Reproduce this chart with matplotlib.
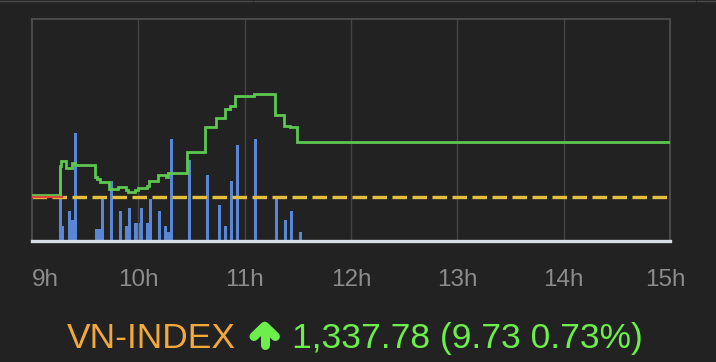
import matplotlib
matplotlib.use("Agg")
import matplotlib.pyplot as plt
from matplotlib.lines import Line2D
from matplotlib.transforms import ScaledTranslation

# ---------------- data ----------------
ref_value = 1328.05
last_value = 1337.78
change = 9.73
change_pct = 0.73

# index line (minutes since 9:00, value) - step shaped
line_minutes = [0, 15.8, 16.2, 19.0, 22.4, 24.3, 35.5, 36.8, 38.4, 43.6, 48.5, 53.0,
                54.3, 58.1, 60.0, 64.7, 66.2, 71.3, 75.4, 76.9, 87.3, 97.6, 103.8,
                108.9, 111.7, 114.6, 125.3, 137.1, 142.4, 145.6, 149.4, 151.2, 360]
line_values = [1328.3, 1333.54, 1334.49, 1333.13, 1334.13, 1333.72, 1331.63, 1331.16,
               1330.73, 1329.37, 1329.84, 1329.25, 1328.89, 1329.25, 1329.55, 1329.96,
               1330.91, 1331.93, 1331.63, 1332.24, 1336.00, 1340.46, 1342.07, 1343.68,
               1344.27, 1346.06, 1346.37, 1342.66, 1340.70, 1340.46, 1337.89, 1337.78,
               1337.78]

# below-reference segment (red)
red_minutes = [0, 16.8]

# volume bars (minutes since 9:00, volume)
vol_minutes = [15.9, 17.5, 21.0, 22.7, 24.4, 36.4, 38.1, 39.8, 44.9, 49.9, 53.3, 55.0,
               58.4, 60.1, 61.8, 65.2, 66.9, 71.9, 75.3, 77.0, 78.7, 88.9, 99.0, 105.8,
               109.2, 112.6, 116.0, 126.1, 138.0, 143.0, 146.4, 151.5]
vol_values = [7.4, 1.53, 3.0, 2.1, 10.83, 1.2, 1.2, 4.53, 6.0, 3.0, 1.5, 3.3,
              1.8, 1.8, 3.3, 1.8, 4.2, 3.0, 1.5, 0.9, 10.2, 8.1, 6.6, 3.6,
              1.5, 6.0, 9.6, 10.2, 4.2, 2.1, 3.0, 0.9]

tick_minutes = [0, 60, 120, 180, 240, 300, 360]
tick_labels = ["9h", "10h", "11h", "12h", "13h", "14h", "15h"]

# ---------------- style ----------------
BG = "#222222"
GREEN = "#5cc850"
RED = "#e0453a"
YELLOW = "#e6bf3a"
BLUE = "#5a86d6"
FRAME = "#4a4a4a"
GRID = "#454545"
TICK = "#8c8c8c"
ORANGE = "#f3a83a"
TXT_GREEN = "#6cef4a"

W, H = 716, 362
fig = plt.figure(figsize=(W / 100, H / 100), dpi=100, facecolor=BG)

def fx(px):
    return px / W

def fy(py):
    return 1 - py / H

ax_l, ax_r, ax_t, ax_b = 32, 670, 19.3, 241
ax = fig.add_axes([fx(ax_l), fy(ax_b), (ax_r - ax_l) / W, (ax_b - ax_t) / H])
ax.set_facecolor(BG)

# volume axis (behind)
axv = ax.twinx()
axv.set_zorder(ax.get_zorder() - 1)
ax.patch.set_visible(False)
axv.set_facecolor(BG)
axv.bar(vol_minutes, vol_values, width=1.6, color=BLUE, linewidth=0, align="center")
axv.set_ylim(0, 22.17)
axv.set_yticks([])
for s in axv.spines.values():
    s.set_visible(False)

# grid lines
for m in tick_minutes[1:-1]:
    ax.axvline(m, color=GRID, lw=1.0, zorder=1)

# reference dashed line
ax.axhline(ref_value, color=YELLOW, lw=2.4, dashes=(4.35, 1.65), zorder=2)
# index line
ax.plot(line_minutes, line_values, drawstyle="steps-post", color=GREEN, lw=2.0,
        zorder=3, solid_joinstyle="miter")
# red segment below reference
ax.plot(red_minutes, [ref_value, ref_value], color=RED, lw=1.6, zorder=4)

ax.set_xlim(0, 360)
ax.set_ylim(1320.13, 1359.79)
ax.set_yticks([])

for side in ["left", "right", "top"]:
    ax.spines[side].set_color(FRAME)
    ax.spines[side].set_linewidth(1.5)
ax.spines["bottom"].set_color("#d8dce6")
ax.spines["bottom"].set_linewidth(2.4)
ax.spines["bottom"].set_zorder(5)

ax.set_xticks(tick_minutes)
ax.set_xticklabels(tick_labels, fontsize=17.5, color=TICK, family="Liberation Sans")
ax.tick_params(axis="x", length=0, pad=20)
labels = ax.get_xticklabels()
labels[0].set_ha("left")
labels[-1].set_transform(labels[-1].get_transform() +
                         ScaledTranslation(-5 / 100, 0, fig.dpi_scale_trans))

# title
baseline = 348.3
fig.text(fx(66.7), fy(baseline), "VN-INDEX", color=ORANGE, fontsize=25.5,
         family="Liberation Sans", va="baseline", ha="left")
fig.text(fx(292), fy(baseline), f"{last_value:,.2f} ({change:.2f} {change_pct:.2f}%)",
         color=TXT_GREEN, fontsize=25.5, family="Liberation Sans", va="baseline", ha="left")

# arrow icon
fig.add_artist(Line2D([fx(264.7), fx(264.7)], [fy(327), fy(344.5)], color=TXT_GREEN,
                      lw=6.5, solid_capstyle="round", transform=fig.transFigure))
fig.add_artist(Line2D([fx(254), fx(264.7), fx(275.4)], [fy(336.5), fy(326.2), fy(336.5)],
                      color=TXT_GREEN, lw=6.5, solid_capstyle="round",
                      solid_joinstyle="round", transform=fig.transFigure))

# thin top border line of the widget
fig.add_artist(Line2D([0, fx(252)], [fy(0.6), fy(0.6)], color=FRAME, lw=1,
                      transform=fig.transFigure))
fig.add_artist(Line2D([fx(254), fx(695)], [fy(0.6), fy(0.6)], color=FRAME, lw=1,
                      transform=fig.transFigure))
fig.add_artist(Line2D([fx(697), 1], [fy(0.6), fy(0.6)], color=FRAME, lw=1,
                      transform=fig.transFigure))

fig.savefig("out.png", dpi=100, facecolor=BG)
